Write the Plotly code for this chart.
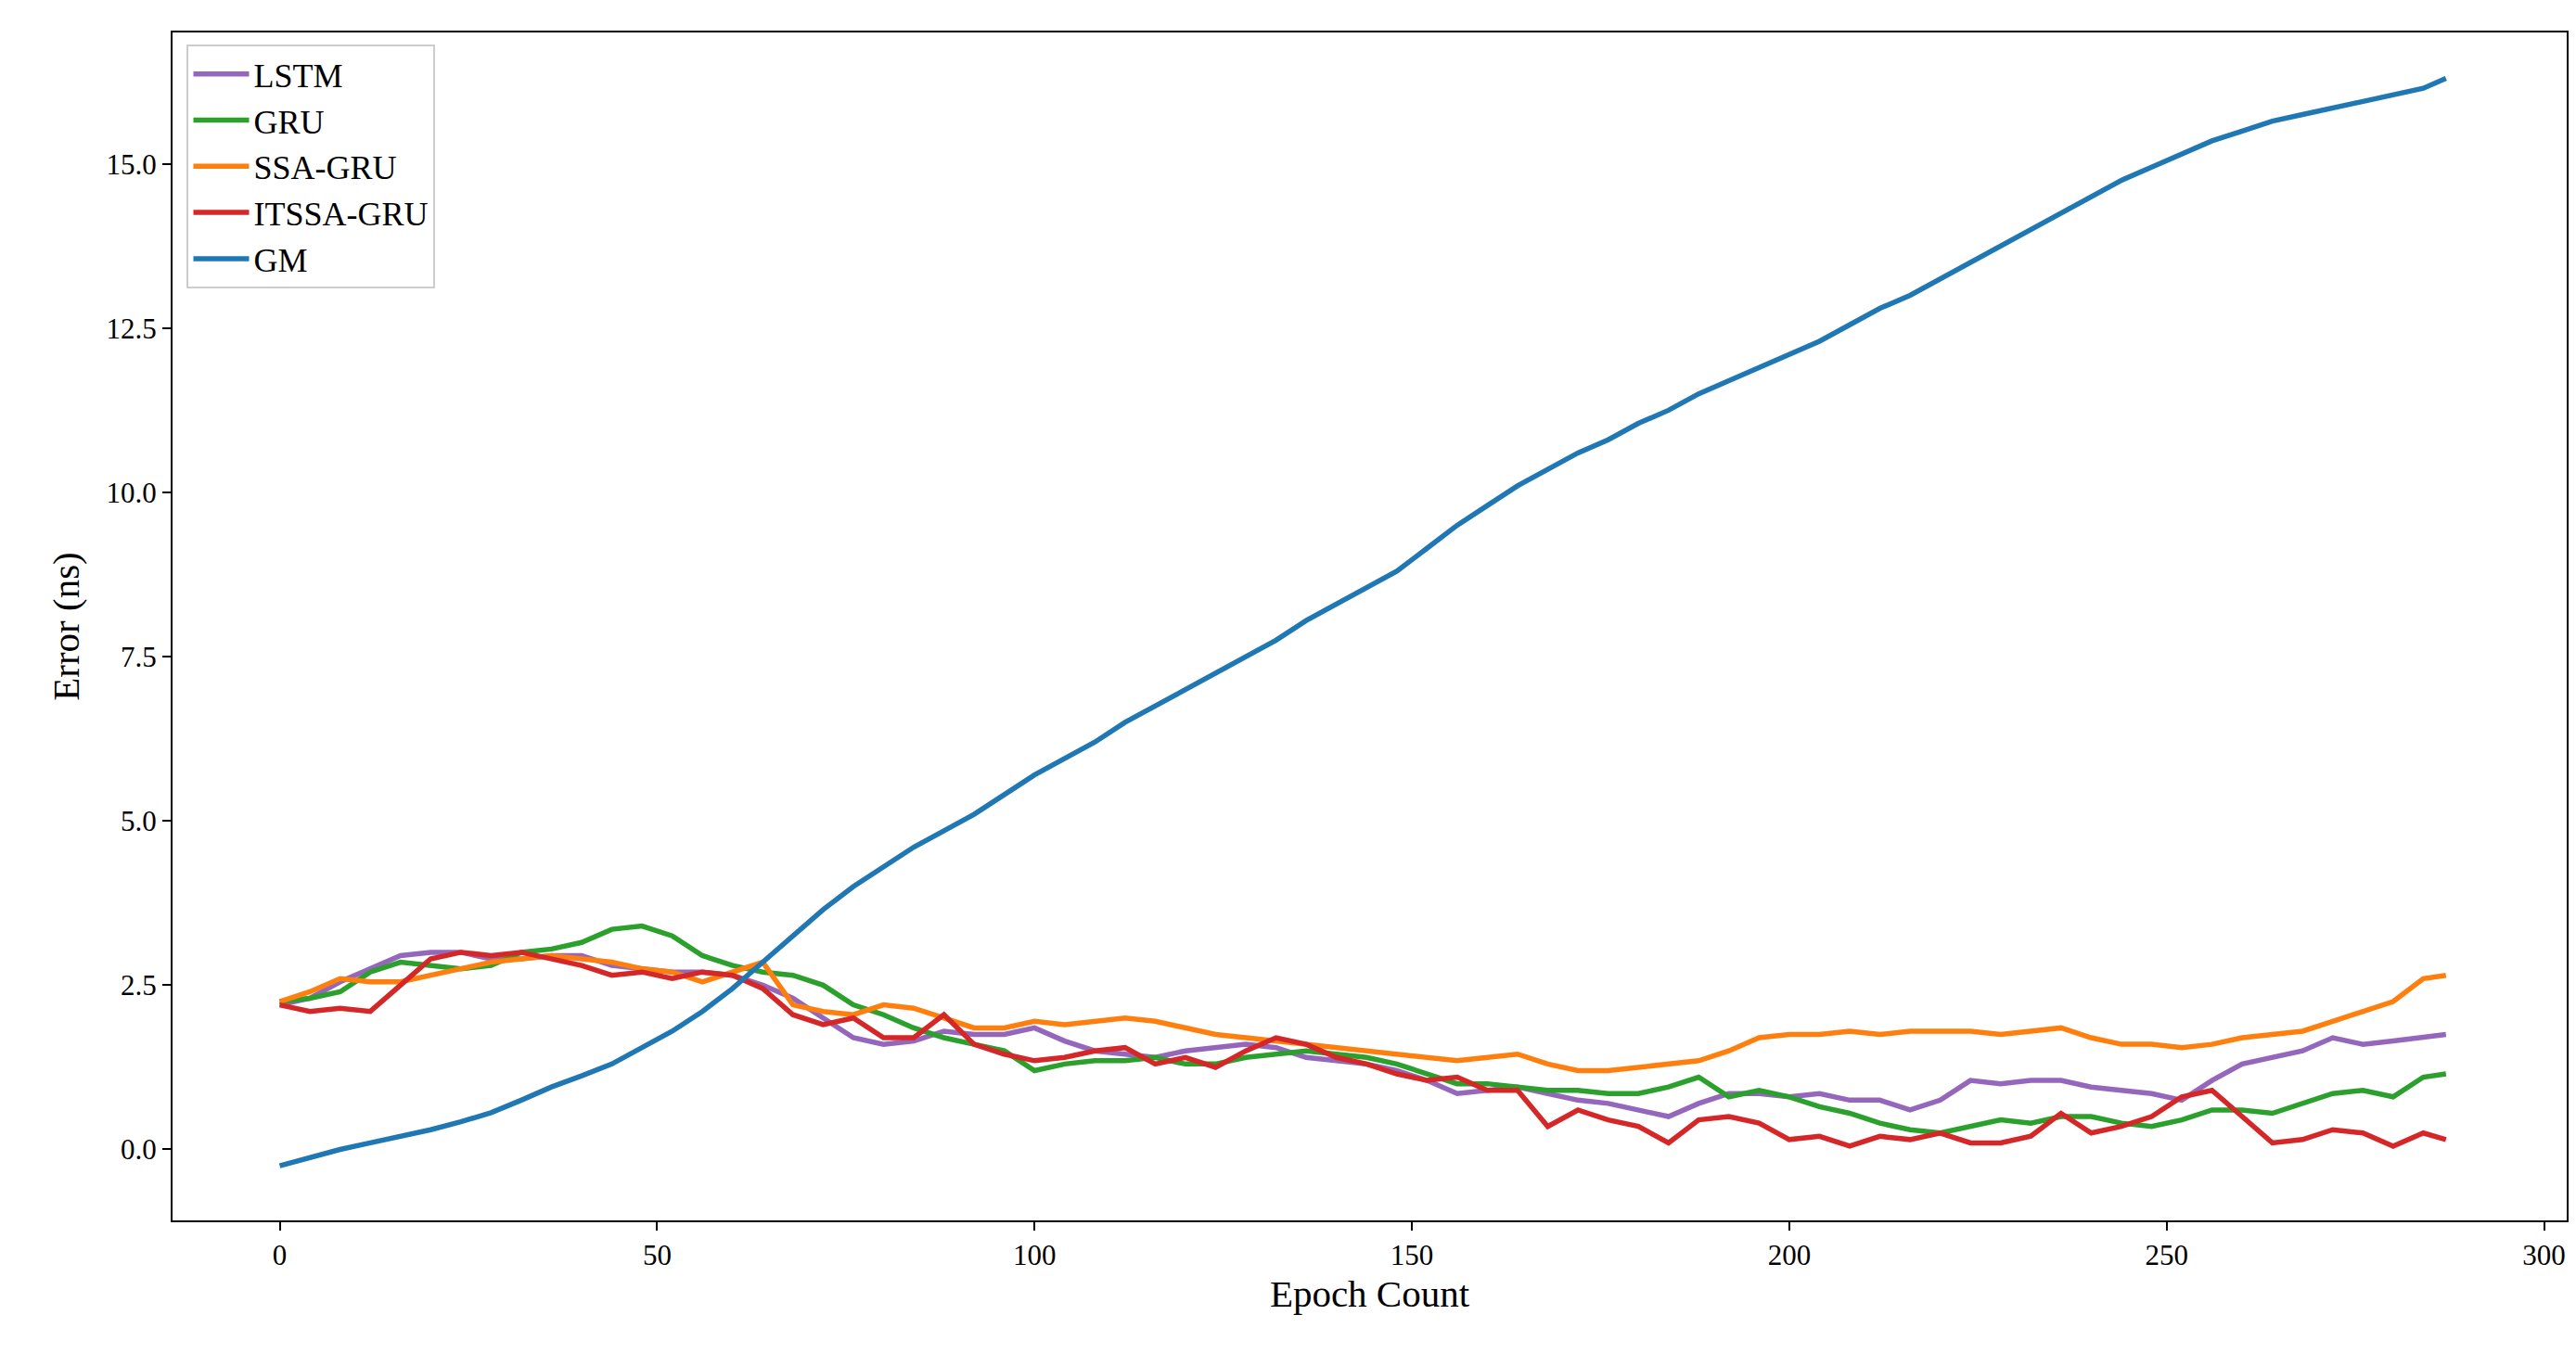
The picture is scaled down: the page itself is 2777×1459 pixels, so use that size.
import plotly.graph_objects as go

# epochs sampled every 4 steps, plus the last one
epochs = list(range(0, 285, 4)) + [287]

lstm = [2.2, 2.3, 2.55, 2.75, 2.95, 3.0, 3.0, 2.9, 2.9, 2.95, 2.95, 2.8, 2.75, 2.7, 2.7, 2.65,
        2.5, 2.3, 2.0, 1.7, 1.6, 1.65, 1.8, 1.75, 1.75, 1.85, 1.65, 1.5, 1.45, 1.4, 1.5, 1.55,
        1.6, 1.55, 1.4, 1.35, 1.3, 1.2, 1.05, 0.85, 0.9, 0.95, 0.85, 0.75, 0.7, 0.6, 0.5, 0.7,
        0.85, 0.85, 0.8, 0.85, 0.75, 0.75, 0.6, 0.75, 1.05, 1.0, 1.05, 1.05, 0.95, 0.9, 0.85,
        0.75, 1.05, 1.3, 1.4, 1.5, 1.7, 1.6, 1.65, 1.7, 1.75]
gru = [2.25, 2.3, 2.4, 2.7, 2.85, 2.8, 2.75, 2.8, 3.0, 3.05, 3.15, 3.35, 3.4, 3.25, 2.95, 2.8,
       2.7, 2.65, 2.5, 2.2, 2.05, 1.85, 1.7, 1.6, 1.5, 1.2, 1.3, 1.35, 1.35, 1.4, 1.3, 1.3,
       1.4, 1.45, 1.5, 1.45, 1.4, 1.3, 1.15, 1.0, 1.0, 0.95, 0.9, 0.9, 0.85, 0.85, 0.95, 1.1,
       0.8, 0.9, 0.8, 0.65, 0.55, 0.4, 0.3, 0.25, 0.35, 0.45, 0.4, 0.5, 0.5, 0.4, 0.35, 0.45,
       0.6, 0.6, 0.55, 0.7, 0.85, 0.9, 0.8, 1.1, 1.15]
ssa_gru = [2.25, 2.4, 2.6, 2.55, 2.55, 2.65, 2.75, 2.85, 2.9, 2.95, 2.9, 2.85, 2.75, 2.7, 2.55,
           2.7, 2.85, 2.2, 2.1, 2.05, 2.2, 2.15, 2.0, 1.85, 1.85, 1.95, 1.9, 1.95, 2.0, 1.95,
           1.85, 1.75, 1.7, 1.65, 1.6, 1.55, 1.5, 1.45, 1.4, 1.35, 1.4, 1.45, 1.3, 1.2, 1.2,
           1.25, 1.3, 1.35, 1.5, 1.7, 1.75, 1.75, 1.8, 1.75, 1.8, 1.8, 1.8, 1.75, 1.8, 1.85,
           1.7, 1.6, 1.6, 1.55, 1.6, 1.7, 1.75, 1.8, 1.95, 2.1, 2.25, 2.6, 2.65]
itssa_gru = [2.2, 2.1, 2.15, 2.1, 2.5, 2.9, 3.0, 2.95, 3.0, 2.9, 2.8, 2.65, 2.7, 2.6, 2.7, 2.65,
             2.45, 2.05, 1.9, 2.0, 1.7, 1.7, 2.05, 1.6, 1.45, 1.35, 1.4, 1.5, 1.55, 1.3, 1.4,
             1.25, 1.5, 1.7, 1.6, 1.4, 1.3, 1.15, 1.05, 1.1, 0.9, 0.9, 0.35, 0.6, 0.45, 0.35,
             0.1, 0.45, 0.5, 0.4, 0.15, 0.2, 0.05, 0.2, 0.15, 0.25, 0.1, 0.1, 0.2, 0.55, 0.25,
             0.35, 0.5, 0.8, 0.9, 0.5, 0.1, 0.15, 0.3, 0.25, 0.05, 0.25, 0.15]
gm = [-0.25, -0.12, 0.0, 0.1, 0.2, 0.3, 0.42, 0.56, 0.75, 0.95, 1.12, 1.3, 1.55, 1.8, 2.1, 2.45,
      2.85, 3.25, 3.65, 4.0, 4.3, 4.6, 4.85, 5.1, 5.4, 5.7, 5.95, 6.2, 6.5, 6.75, 7.0, 7.25,
      7.5, 7.75, 8.05, 8.3, 8.55, 8.8, 9.15, 9.5, 9.8, 10.1, 10.35, 10.6, 10.8, 11.05, 11.25,
      11.5, 11.7, 11.9, 12.1, 12.3, 12.55, 12.8, 13.0, 13.25, 13.5, 13.75, 14.0, 14.25, 14.5,
      14.75, 14.95, 15.15, 15.35, 15.5, 15.65, 15.75, 15.85, 15.95, 16.05, 16.15, 16.3]

series = [("LSTM", lstm, "#9467bd"), ("GRU", gru, "#2ca02c"), ("SSA-GRU", ssa_gru, "#ff7f0e"),
          ("ITSSA-GRU", itssa_gru, "#d62728"), ("GM", gm, "#1f77b4")]

fig = go.Figure()
for name, vals, color in series:
    fig.add_trace(go.Scatter(x=epochs, y=vals, name=name, mode="lines",
                             line=dict(color=color, width=5.5)))

axis = dict(showgrid=False, zeroline=False, showline=True, linecolor="black", linewidth=2,
            mirror=True, ticks="outside", ticklen=9, tickwidth=2, tickcolor="black",
            tickfont=dict(size=31))
fig.update_layout(
    width=2777, height=1459, plot_bgcolor="white", paper_bgcolor="white",
    font=dict(family="Liberation Serif", color="black"),
    margin=dict(l=178, r=18, t=27, b=151),
    xaxis=dict(axis, range=[-14.2, 303], tickvals=[0, 50, 100, 150, 200, 250, 300],
               title=dict(text="Epoch Count", font=dict(size=41), standoff=10)),
    yaxis=dict(axis, range=[-1.08, 17.0], tickvals=[0, 2.5, 5, 7.5, 10, 12.5, 15],
               tickformat=".1f", title=dict(text="Error (ns)", font=dict(size=41), standoff=16)),
    legend=dict(x=0.006, y=0.99, xanchor="left", yanchor="top", bgcolor="white",
                bordercolor="#cccccc", borderwidth=2, font=dict(size=36),
                tracegroupgap=10, itemwidth=60),
)
fig.write_html("out.html")
